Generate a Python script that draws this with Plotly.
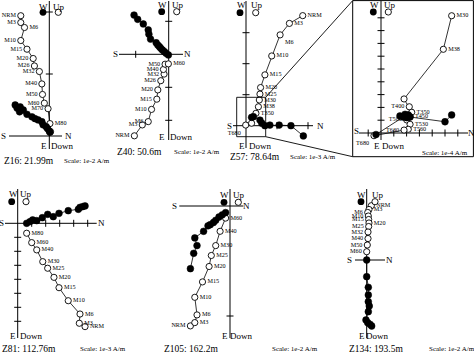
import plotly.graph_objects as go

W, H = 474, 353
SERIF = "Liberation Serif"

# ---------------- data (values in units of each panel's scale) ----------------
# Z16: 21.99m  (scale 1e-2 A/m)
z16_steps   = ["NRM", "M3", "M6", "M10", "M15", "M20", "M26", "M32", "M40", "M50", "M60", "M70", "M80", ""]
z16_v_north = [-0.46, -0.46, -0.40, -0.46, -0.36, -0.26, -0.24, -0.16, -0.12, -0.11, -0.08, -0.02, 0.01, 0.02]
z16_v_up    = [1.94, 1.83, 1.75, 1.54, 1.40, 1.25, 1.13, 1.04, 0.84, 0.67, 0.53, 0.44, 0.20, 0.07]
z16_h_north = [-0.55, -0.47, -0.52, -0.42, -0.48, -0.36, -0.28, -0.23, -0.18, -0.12, -0.10, -0.05, -0.03, 0.0, 0.01]
z16_h_west  = [0.50, 0.47, 0.45, 0.42, 0.39, 0.35, 0.31, 0.28, 0.26, 0.23, 0.18, 0.15, 0.12, 0.08, 0.06]

# Z40: 50.6m  (scale 1e-2 A/m)
z40_steps   = ["NRM", "M3", "M6", "M10", "M15", "M20", "M26", "M32", "M40", "M50", "M60"]
z40_v_north = [-1.04, -0.80, -0.62, -0.52, -0.36, -0.33, -0.24, -0.14, -0.16, -0.11, -0.01]
z40_v_up    = [-2.47, -2.14, -2.04, -1.67, -1.36, -1.08, -0.80, -0.60, -0.46, -0.30, -0.29]
z40_h_north = [-1.05, -0.94, -0.77, -0.62, -0.60, -0.55, -0.38, -0.33, -0.28, -0.24, -0.19, -0.13, -0.08, -0.01]
z40_h_west  = [1.19, 1.06, 0.92, 0.74, 0.61, 0.46, 0.35, 0.28, 0.23, 0.18, 0.13, 0.08, 0.03, -0.02]

# Z57: 78.64m  (scale 1e-3 A/m)
z57_steps   = ["NRM", "M3", "M6", "M10", "M15", "M20", "M25", "M30", "M38", "T350", "", "T680"]
z57_v_north = [1.83, 1.40, 1.10, 0.83, 0.61, 0.47, 0.45, 0.43, 0.40, 0.32, 0.18, -0.01]
z57_v_up    = [3.55, 3.30, 2.93, 2.25, 1.64, 1.23, 1.02, 0.83, 0.61, 0.40, 0.08, 0.02]
z57_h_north = [1.85, 1.45, 1.07, 0.77, 0.61, 0.51, 0.45, 0.24, 0.18]
z57_h_west  = [-0.33, 0.0, 0.02, 0.02, 0.0, 0.08, 0.18, 0.29, 0.27]

# Z57 enlarged detail  (scale 1e-4 A/m)
z57d_steps   = ["M30", "M38", "", "T350", "T400", "T450", "T500", "T530", "T560", "T630", "T680"]
z57d_v_north = [5.52, 4.87, 1.80, 2.40, 2.21, 2.27, 2.01, 2.27, 2.13, 1.80, -0.55]
z57d_v_up    = [9.16, 6.54, 2.66, 1.62, 2.05, 1.27, 1.02, 0.68, 0.29, 0.23, -0.21]
z57d_h_north = [5.52, 5.00, 2.27, 2.01, 2.13, 1.88, 1.48, 1.74, -0.39]
z57d_h_west  = [1.41, 0.88, 1.25, 1.20, 1.41, 1.46, 1.33, 1.25, -0.12]

# Z81: 112.76m  (scale 1e-3 A/m)
z81_steps   = ["NRM", "M3", "M6", "M10", "M15", "M20", "M25", "M30", "M40", "M60", "M80"]
z81_v_north = [4.81, 4.40, 4.45, 3.61, 2.95, 2.59, 2.14, 1.79, 1.36, 1.00, 0.64]
z81_v_up    = [-7.38, -7.14, -6.48, -5.53, -4.60, -3.86, -3.21, -2.74, -1.90, -1.38, -0.71]
z81_h_north = [4.81, 4.64, 4.45, 4.33, 3.61, 2.95, 2.54, 2.14, 1.76, 1.36, 1.07, 0.88, 0.64]
z81_h_west  = [1.24, 1.19, 1.14, 1.00, 0.90, 0.71, 0.47, 0.64, 0.40, 0.19, 0.24, 0.12, 0.0]

# Z105: 162.2m  (scale 1e-2 A/m)
z105_steps   = ["NRM", "M3", "M6", "M10", "M15", "M20", "M25", "M30", "M40", "M60"]
z105_v_north = [-0.36, -0.32, -0.30, -0.32, -0.25, -0.19, -0.17, -0.13, -0.09, -0.04]
z105_v_up    = [-1.09, -1.06, -0.99, -0.83, -0.69, -0.55, -0.45, -0.36, -0.23, -0.11]
z105_h_north = [-0.36, -0.33, -0.30, -0.32, -0.24, -0.20, -0.18, -0.15, -0.13, -0.10, -0.07, -0.04]
z105_h_west  = [-0.57, -0.43, -0.36, -0.29, -0.23, -0.18, -0.17, -0.15, -0.13, -0.10, -0.08, -0.06]

# Z134: 193.5m  (scale 1e-2 A/m)
z134_steps   = ["NRM", "M3", "M6", "M10", "M15", "M20", "M25", "M32", "M40", "M50", "M60"]
z134_v_north = [0.077, 0.038, 0.017, 0.027, 0.033, 0.038, 0.033, 0.022, 0.022, 0.01, 0.0]
z134_v_up    = [0.905, 0.842, 0.792, 0.733, 0.675, 0.617, 0.558, 0.467, 0.358, 0.25, 0.138]
z134_h_north = [0.083, 0.055, 0.017, -0.012, 0.027, 0.043, 0.027, 0.027, 0.027, 0.0, 0.0]
z134_h_west  = [-1.10, -1.072, -1.045, -1.0, -0.862, -0.767, -0.695, -0.583, -0.455, -0.278, 0.0]

# ---------------- panel layout (pixel geometry) ----------------
POS = {"L": "middle left", "R": "middle right", "BL": "bottom left", "BR": "bottom right",
       "TL": "top left", "TR": "top right"}

panels = [
    dict(caption="Z16: 21.99m", scale="Scale: 1e-2 A/m",
         steps=z16_steps, vn=z16_v_north, vu=z16_v_up, hn=z16_h_north, hw=z16_h_west,
         lab=["L", "L", "R", "L", "L", "L", "L", "L", "L", "L", "L", "L", "R", "R"],
         origin=(49.3, 136), s=62, box=(0, 0, 112, 172), vline=(1, 149), hline=(9, 62),
         xticks=[], yticks=[1, 2],
         Wt=(43.5, 6.5), Upt=(58.5, 6.5), Et=(43.5, 146), Dt=(62, 146), St=(3, 136), Nt=(68, 136),
         legF=(43, 12.3), legO=(58.3, 12.3), cap=(2, 161), scl=(62, 161)),
    dict(caption="Z40: 50.6m", scale="Scale: 1e-2 A/m",
         steps=z40_steps, vn=z40_v_north, vu=z40_v_up, hn=z40_h_north, hw=z40_h_west,
         lab=["L", "L", "L", "L", "L", "L", "L", "L", "L", "L", "R"],
         origin=(168.7, 54.3), s=33, box=(112, 0, 225, 172), vline=(1, 140), hline=(119, 183),
         xticks=[-1], yticks=[1, -1, -2],
         Wt=(162, 5.5), Upt=(177.5, 5.5), Et=(162, 137), Dt=(181, 137), St=(115, 54.3), Nt=(187.5, 54.3),
         legF=(161.7, 11.7), legO=(176.7, 11.7), cap=(115, 152), scl=(172, 152)),
    dict(caption="Z57: 78.64m", scale="Scale: 1e-3 A/m",
         steps=z57_steps, vn=z57_v_north, vu=z57_v_up, hn=z57_h_north, hw=z57_h_west,
         lab=["R", "R", "BR", "R", "R", "R", "R", "R", "R", "R", "R", "BL"],
         origin=(246, 125.7), s=31, box=(225, 0, 352, 172), vline=(1, 148), hline=(233, 313),
         xticks=[1, 2], yticks=[1, 2, 3],
         Wt=(241.7, 5.5), Upt=(256.5, 5.5), Et=(241.7, 145.7), Dt=(260, 145.7), St=(229, 125.7), Nt=(320, 125.7),
         legF=(240, 12.7), legO=(255.7, 12.7), cap=(228, 157), scl=(288, 157)),
    dict(caption="", scale="Scale: 1e-4 A/m",
         steps=z57d_steps, vn=z57d_v_north, vu=z57d_v_up, hn=z57d_h_north, hw=z57d_h_west,
         lab=["R", "R", "R", "R", "L", "R", "L", "R", "R", "L", "BL"],
         origin=(381, 133), s=12.8, box=(353, 0, 474, 157), vline=(1, 140), hline=(359, 468),
         xticks=[-1, 1, 2, 3, 4, 5, 6], yticks=[1, 2, 3, 4, 5, 6, 7, 8, 9],
         Wt=(374.5, 5.5), Upt=(389.5, 5.5), Et=(376.7, 145.7), Dt=(393, 145.7), St=(356.5, 131), Nt=(471.5, 133),
         legF=(373.3, 12), legO=(388.3, 12), cap=None, scl=(420, 153)),
    dict(caption="Z81: 112.76m", scale="Scale: 1e-3 A/m",
         steps=z81_steps, vn=z81_v_north, vu=z81_v_up, hn=z81_h_north, hw=z81_h_west,
         lab=["R", "R", "R", "R", "R", "R", "R", "R", "R", "R", "R"],
         origin=(17.7, 223.3), s=14, box=(0, 175, 150, 353), vline=(189, 338), hline=(5, 96.7),
         xticks=[1, 2, 3, 4, 5], yticks=[-1, -2, -3, -4, -5, -6, -7],
         Wt=(13, 194), Upt=(25.5, 194), Et=(13.3, 335.7), Dt=(31, 335.7), St=(1, 223.3), Nt=(101.7, 223.3),
         legF=(11.7, 201.7), legO=(26, 201.7), cap=(0, 349), scl=(78, 349)),
    dict(caption="Z105: 162.2m", scale="Scale: 1e-2 A/m",
         steps=z105_steps, vn=z105_v_north, vu=z105_v_up, hn=z105_h_north, hw=z105_h_west,
         lab=["L", "R", "R", "R", "R", "R", "R", "R", "R", "R"],
         origin=(230, 206), s=110, box=(150, 175, 300, 353), vline=(189, 338), hline=(179.3, 243.3),
         xticks=[], yticks=[-1],
         Wt=(224, 195), Upt=(239, 195), Et=(225, 335.7), Dt=(241, 335.7), St=(174, 206), Nt=(247, 206),
         legF=(224, 202.3), legO=(238.3, 202.3), cap=(161.7, 349), scl=(270, 349)),
    dict(caption="Z134: 193.5m", scale="Scale: 1e-2 A/m",
         steps=z134_steps, vn=z134_v_north, vu=z134_v_up, hn=z134_h_north, hw=z134_h_west,
         lab=["R", "R", "L", "L", "L", "R", "L", "L", "L", "L", "L"],
         origin=(366.7, 260), s=60, box=(300, 175, 474, 353), vline=(189, 338), hline=(355, 385),
         xticks=[], yticks=[],
         Wt=(361, 195), Upt=(377.5, 195), Et=(361.7, 335.7), Dt=(377, 335.7), St=(349.3, 260), Nt=(389.3, 260),
         legF=(361, 201.7), legO=(375, 201.7), cap=(346.7, 349), scl=(426.7, 349)),
]

fig = go.Figure()
annotations = []
shapes = []
LINE = dict(color="black", width=0.8)


def px2paper(x, y):
    return x / W, 1 - y / H


for i, p in enumerate(panels, start=1):
    xa = "x" if i == 1 else f"x{i}"
    ya = "y" if i == 1 else f"y{i}"
    ox, oy = p["origin"]
    s = p["s"]
    bx0, by0, bx1, by1 = p["box"]
    common = dict(showgrid=False, zeroline=False, showticklabels=False, showline=False,
                  ticks="", fixedrange=True)
    fig.layout[("xaxis" if i == 1 else f"xaxis{i}")] = dict(
        domain=[bx0 / W, bx1 / W], range=[(bx0 - ox) / s, (bx1 - ox) / s], anchor=ya, **common)
    fig.layout[("yaxis" if i == 1 else f"yaxis{i}")] = dict(
        domain=[1 - by1 / H, 1 - by0 / H], range=[(oy - by1) / s, (oy - by0) / s], anchor=xa, **common)

    def ux(px):
        return (px - ox) / s

    def uy(py):
        return (oy - py) / s

    # cross axes
    fig.add_trace(go.Scatter(x=[0, 0], y=[uy(p["vline"][0]), uy(p["vline"][1])], mode="lines",
                             line=dict(color="black", width=1), xaxis=xa, yaxis=ya,
                             hoverinfo="skip", showlegend=False, cliponaxis=False))
    fig.add_trace(go.Scatter(x=[ux(p["hline"][0]), ux(p["hline"][1])], y=[0, 0], mode="lines",
                             line=dict(color="black", width=1), xaxis=xa, yaxis=ya,
                             hoverinfo="skip", showlegend=False, cliponaxis=False))
    if p["yticks"]:
        fig.add_trace(go.Scatter(x=[0] * len(p["yticks"]), y=p["yticks"], mode="markers",
                                 marker=dict(symbol="line-ew", size=5, line=dict(color="black", width=1)),
                                 xaxis=xa, yaxis=ya, hoverinfo="skip", showlegend=False, cliponaxis=False))
    if p["xticks"]:
        fig.add_trace(go.Scatter(x=p["xticks"], y=[0] * len(p["xticks"]), mode="markers",
                                 marker=dict(symbol="line-ns", size=5, line=dict(color="black", width=1)),
                                 xaxis=xa, yaxis=ya, hoverinfo="skip", showlegend=False, cliponaxis=False))

    # vertical projection (open) with step labels
    fig.add_trace(go.Scatter(x=p["vn"], y=p["vu"], mode="lines+markers+text",
                             text=p["steps"], textposition=[POS[c] for c in p["lab"]],
                             textfont=dict(family=SERIF, size=6.2, color="black"),
                             line=LINE,
                             marker=dict(symbol="circle", size=6.2, color="white",
                                         line=dict(color="black", width=0.9)),
                             xaxis=xa, yaxis=ya, hoverinfo="skip", showlegend=False, cliponaxis=False))
    # horizontal projection (filled)
    fig.add_trace(go.Scatter(x=p["hn"], y=p["hw"], mode="lines+markers",
                             line=LINE,
                             marker=dict(symbol="circle", size=6.8, color="black",
                                         line=dict(color="black", width=0.5)),
                             xaxis=xa, yaxis=ya, hoverinfo="skip", showlegend=False, cliponaxis=False))
    # key symbols beside W / Up
    fig.add_trace(go.Scatter(x=[ux(p["legF"][0])], y=[uy(p["legF"][1])], mode="markers",
                             marker=dict(symbol="circle", size=6.8, color="black"),
                             xaxis=xa, yaxis=ya, hoverinfo="skip", showlegend=False, cliponaxis=False))
    fig.add_trace(go.Scatter(x=[ux(p["legO"][0])], y=[uy(p["legO"][1])], mode="markers",
                             marker=dict(symbol="circle", size=6.2, color="white",
                                         line=dict(color="black", width=0.9)),
                             xaxis=xa, yaxis=ya, hoverinfo="skip", showlegend=False, cliponaxis=False))

    # axis letters
    for key, txt in (("Wt", "W"), ("Upt", "Up"), ("Et", "E"), ("Dt", "Down"), ("St", "S"), ("Nt", "N")):
        x, y = px2paper(*p[key])
        annotations.append(dict(x=x, y=y, xref="paper", yref="paper", text=txt, showarrow=False,
                                xanchor="center", yanchor="middle",
                                font=dict(family=SERIF, size=9, color="black")))
    if p["cap"]:
        x, y = px2paper(*p["cap"])
        annotations.append(dict(x=x, y=y, xref="paper", yref="paper", text=p["caption"], showarrow=False,
                                xanchor="left", yanchor="middle",
                                font=dict(family=SERIF, size=9.5, color="black")))
    x, y = px2paper(*p["scl"])
    annotations.append(dict(x=x, y=y, xref="paper", yref="paper", text=p["scale"], showarrow=False,
                            xanchor="left", yanchor="middle",
                            font=dict(family=SERIF, size=7, color="black")))

# detail window in Z57 and its enlarged frame
p3 = panels[2]
ox3, oy3 = p3["origin"]
s3 = p3["s"]
rx0, ry0, rx1, ry1 = 236.7, 97.3, 265.7, 136.7
shapes.append(dict(type="rect", xref="x3", yref="y3",
                   x0=(rx0 - ox3) / s3, x1=(rx1 - ox3) / s3, y0=(oy3 - ry1) / s3, y1=(oy3 - ry0) / s3,
                   line=dict(color="black", width=0.9)))
fx0, fy0, fx1, fy1 = 352.7, 0.6, 473.4, 156.7
a, b = px2paper(fx0, fy0)
c, d = px2paper(fx1, fy1)
shapes.append(dict(type="rect", xref="paper", yref="paper", x0=a, y0=d, x1=c, y1=b,
                   line=dict(color="black", width=1)))
for (sx, sy), (tx, ty) in (((rx1, ry0), (fx0, fy0)), ((rx1, ry1), (fx0, fy1))):
    x0, y0 = px2paper(sx, sy)
    x1, y1 = px2paper(tx, ty)
    shapes.append(dict(type="line", xref="paper", yref="paper", x0=x0, y0=y0, x1=x1, y1=y1,
                       line=dict(color="black", width=0.9)))

fig.update_layout(width=W, height=H, autosize=False,
                  margin=dict(l=0, r=0, t=0, b=0),
                  paper_bgcolor="white", plot_bgcolor="rgba(0,0,0,0)",
                  annotations=annotations, shapes=shapes, showlegend=False,
                  font=dict(family=SERIF, color="black"))

fig.write_html("out.html")
